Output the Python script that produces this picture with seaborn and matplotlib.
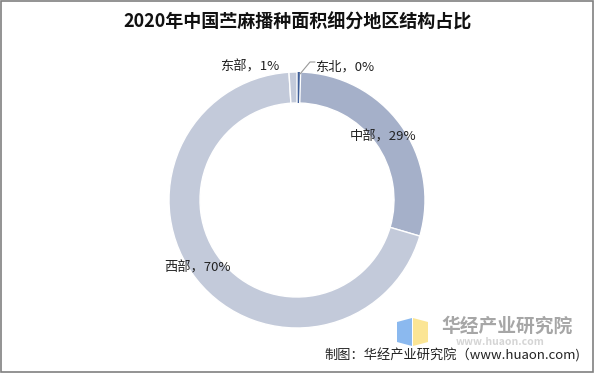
import matplotlib
matplotlib.use('Agg')
import matplotlib.pyplot as plt
import seaborn as sns
from matplotlib.patches import Rectangle, Polygon

sns.set_theme(style='white')
plt.rcParams['font.family'] = ['Noto Sans CJK SC', 'DejaVu Sans']

# data (clockwise from 12 o'clock)
regions = ['东北', '中部', '西部', '东部']
shares = [0.45, 29.1, 69.45, 1.0]
labels = ['东北，0%', '中部，29%', '西部，70%', '东部，1%']
colors = ['#3f5f99', '#a5b0c9', '#c3cada', '#c3cada']

W, H = 595, 373
fig = plt.figure(figsize=(W / 100, H / 100), dpi=100)
ax = fig.add_axes([0, 0, 1, 1])

cx, cy, r = 297, H - 200, 128
wedges, _ = ax.pie(shares, colors=colors, startangle=90, counterclock=False,
                   center=(cx, cy), radius=r, frame=True,
                   wedgeprops=dict(width=31, edgecolor='white', linewidth=1.0))
wedges[0].set_edgecolor('none')
ax.set_xlim(0, W)
ax.set_ylim(0, H)
ax.set_aspect('equal')
ax.axis('off')

# labels
ax.text(250, H - 67, labels[3], fontsize=9.5, ha='center', va='center', color='#222222')
ax.text(345, H - 67, labels[0], fontsize=9.5, ha='center', va='center', color='#222222')
ax.plot([300, 310, 315], [H - 74, H - 62, H - 62], color='#999999', lw=0.8)
ax.text(383, H - 137, labels[1], fontsize=9.5, ha='center', va='center', color='#222222')
ax.text(197, H - 268, labels[2], fontsize=9.5, ha='center', va='center', color='#222222')

# title
fig.text(0.5, 1 - 22 / H, '2020年中国苎麻播种面积细分地区结构占比', ha='center', va='center',
         fontsize=13, fontweight='bold', color='#111111')

# watermark logo
ax.add_patch(Polygon([(397, H - 322), (412, H - 318), (412, H - 346), (397, H - 342)],
                     closed=True, color='#7fb2ee', alpha=0.9, lw=0))
ax.add_patch(Polygon([(413, H - 318), (428, H - 322), (428, H - 342), (413, H - 346)],
                     closed=True, color='#fbe38a', alpha=0.9, lw=0))
ax.text(507, H - 326, '华经产业研究院', fontsize=13.5, fontweight='bold', ha='center',
        va='center', color='#a6a6a6')
ax.text(500, H - 342, 'www.huaon.com', fontsize=7.5, fontweight='bold', ha='center',
        va='center', color='#d5d5d5')

# source
ax.text(580, H - 355, '制图：华经产业研究院（www.huaon.com)', fontsize=9.5, ha='right',
        va='center', color='#222222')

fig.add_artist(Rectangle((0.002, 0.003), 0.995, 0.994, transform=fig.transFigure,
                         fill=False, edgecolor='#808080', lw=1.2))

fig.savefig('out.png', dpi=100)
